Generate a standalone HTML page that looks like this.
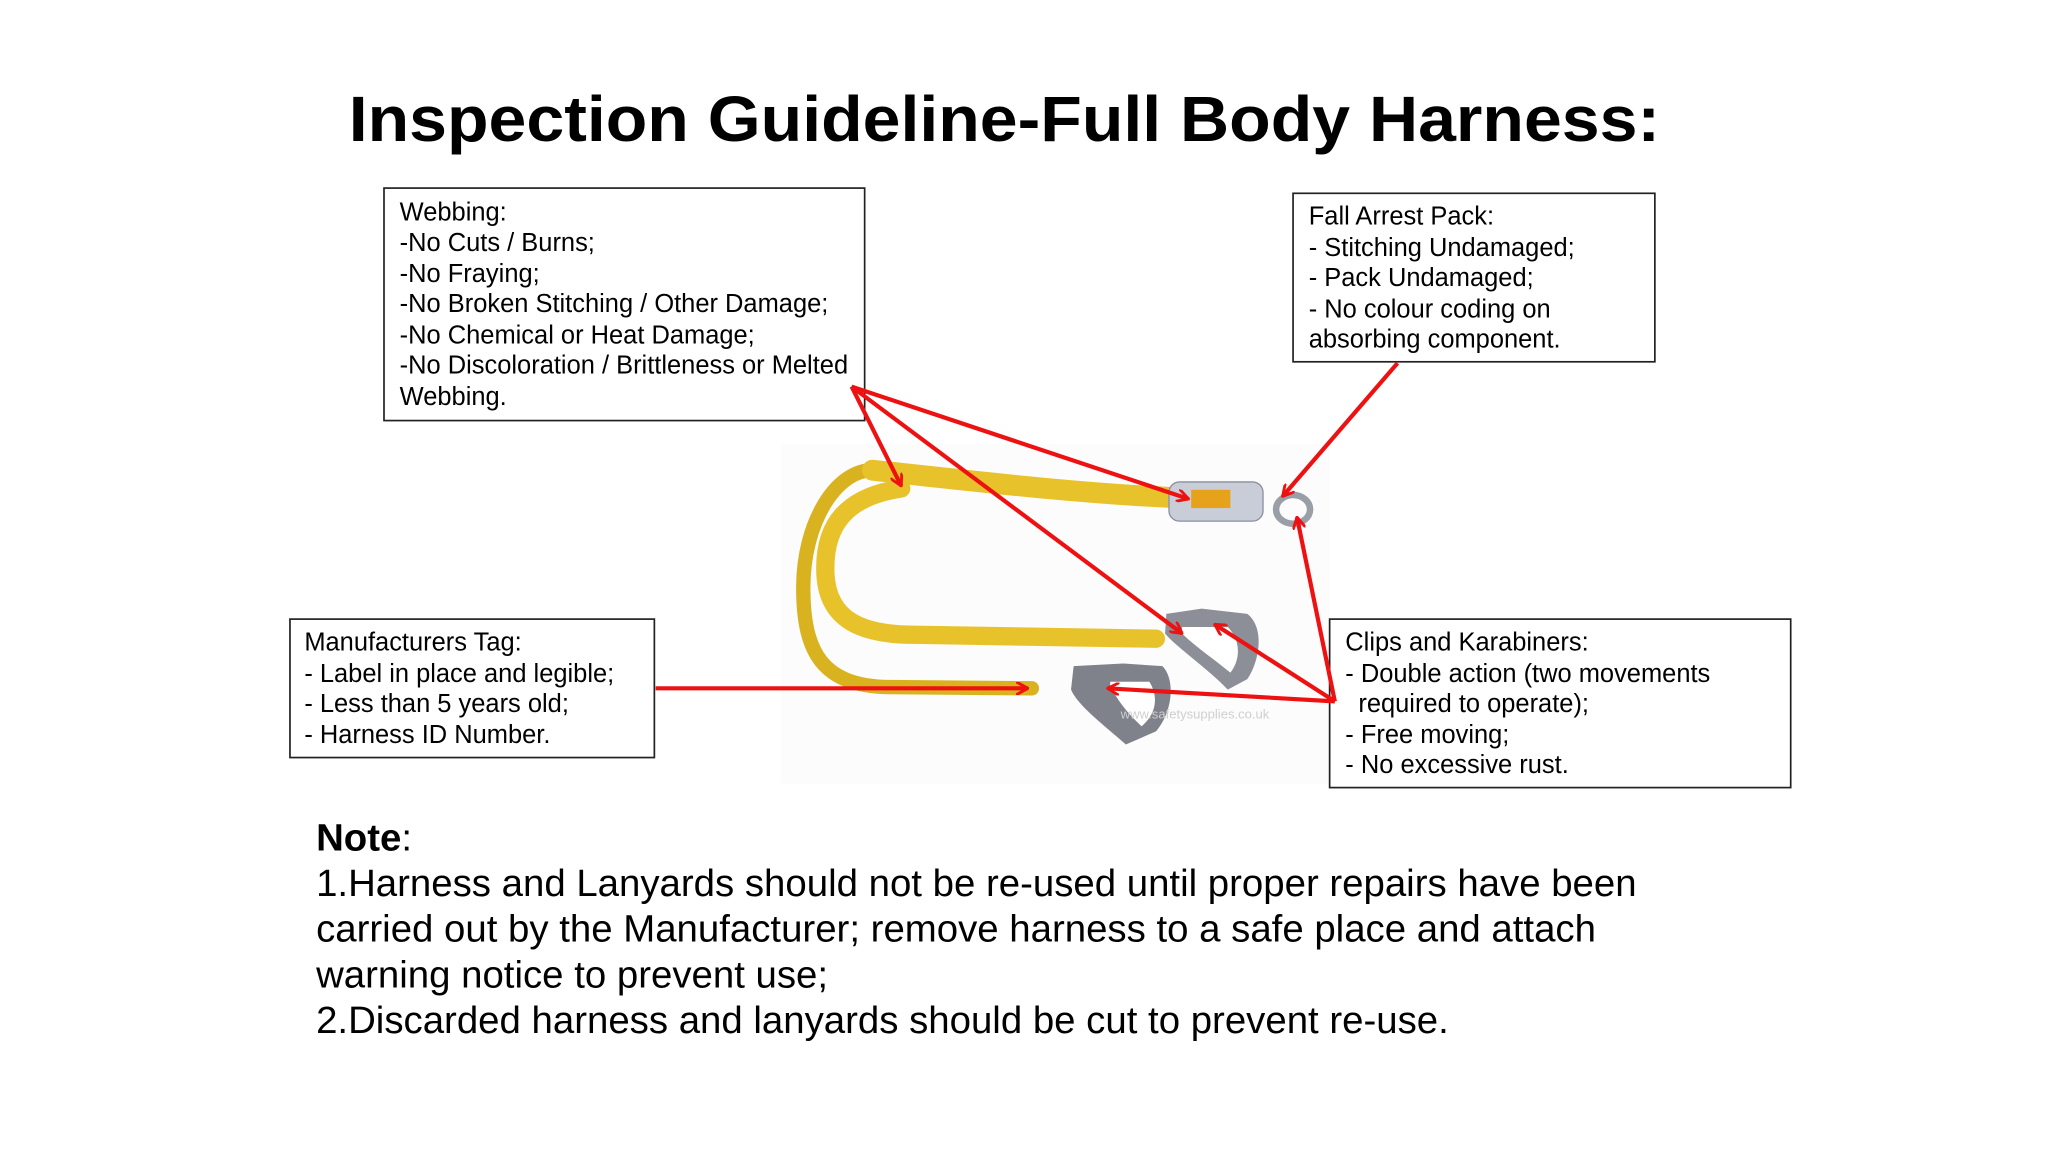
<!DOCTYPE html>
<html><head><meta charset="utf-8"><style>
html,body{margin:0;padding:0;background:#fff;}
svg{display:block;}
text{font-family:"Liberation Sans",Arial,sans-serif;fill:#000;}
</style></head><body>
<svg width="2048" height="1152" viewBox="0 0 1568 882" xmlns="http://www.w3.org/2000/svg">
<defs>
<marker id="ah" markerWidth="10" markerHeight="10" refX="9" refY="5" orient="auto" markerUnits="userSpaceOnUse" viewBox="0 0 10 10">
<path d="M0,0 L9,5 L0,10" fill="none" stroke="#ee1111" stroke-width="2.2"/>
</marker>
</defs>
<rect width="1568" height="882" fill="#fff"/>
<text x="267" y="108" font-size="49" font-weight="bold" textLength="1004" lengthAdjust="spacingAndGlyphs">Inspection Guideline-Full Body Harness:</text>

<!-- lanyard -->
<rect x="598" y="340" width="420" height="260" fill="#fcfcfc"/>
<g fill="none" stroke-linecap="round">
<path d="M668,360 C640,360 615,400 615,450 C615,500 630,525 680,526 L790,527" stroke="#d9b21f" stroke-width="11"/>
<path d="M668,360 C760,370 830,378 900,381" stroke="#e8c22a" stroke-width="16"/>
<path d="M690,374 C650,380 630,400 632,440 C634,475 660,486 700,486 L885,489" stroke="#e8c22a" stroke-width="14"/>
</g>
<rect x="895" y="369" width="72" height="30" rx="8" fill="#c9cdd8" stroke="#8a8fa0"/>
<rect x="912" y="375" width="30" height="14" fill="#e6a21a"/>
<ellipse cx="990" cy="390" rx="13" ry="11" fill="none" stroke="#9a9ea6" stroke-width="5"/>
<path d="M893,470 L920,466 L955,470 C968,480 965,505 955,520 L940,528 C925,512 900,495 892,485 Z" fill="#8c8f98"/>
<path d="M905,480 L940,480 C950,490 950,505 942,515 C930,505 915,495 905,485Z" fill="#fff"/>
<path d="M822,510 L860,508 L890,510 C900,520 898,545 885,560 L862,570 C845,555 825,540 820,528 Z" fill="#7f828b"/>
<path d="M850,522 L880,522 C888,535 884,548 874,556 C862,545 855,535 850,525Z" fill="#fff"/>
<text x="858" y="550" font-size="10" style="fill:#cfcfcf">www.safetysupplies.co.uk</text>

<!-- boxes -->
<g fill="#fff" stroke="#222" stroke-width="1.3">
<rect x="294" y="144" width="368" height="178"/>
<rect x="990" y="148" width="277" height="129"/>
<rect x="222" y="474" width="279" height="106"/>
<rect x="1018" y="474" width="353" height="129"/>
</g>
<g font-size="19.5">
<text x="306" y="169">Webbing:</text>
<text x="306" y="192">-No Cuts / Burns;</text>
<text x="306" y="216">-No Fraying;</text>
<text x="306" y="239">-No Broken Stitching / Other Damage;</text>
<text x="306" y="263">-No Chemical or Heat Damage;</text>
<text x="306" y="286">-No Discoloration / Brittleness or Melted</text>
<text x="306" y="310">Webbing.</text>
<text x="1002" y="172">Fall Arrest Pack:</text>
<text x="1002" y="196">- Stitching Undamaged;</text>
<text x="1002" y="219">- Pack Undamaged;</text>
<text x="1002" y="243">- No colour coding on</text>
<text x="1002" y="266">absorbing component.</text>
<text x="233" y="498">Manufacturers Tag:</text>
<text x="233" y="522">- Label in place and legible;</text>
<text x="233" y="545">- Less than 5 years old;</text>
<text x="233" y="569">- Harness ID Number.</text>
<text x="1030" y="498">Clips and Karabiners:</text>
<text x="1030" y="522">- Double action (two movements</text>
<text x="1040" y="545">required to operate);</text>
<text x="1030" y="569">- Free moving;</text>
<text x="1030" y="592">- No excessive rust.</text>
</g>

<!-- arrows -->
<g stroke="#ee1111" stroke-width="3.2" fill="none" marker-end="url(#ah)">
<line x1="652" y1="296" x2="690" y2="372"/>
<line x1="652" y1="296" x2="910" y2="382"/>
<line x1="652" y1="296" x2="905" y2="485"/>
<line x1="1070" y1="278" x2="982" y2="380"/>
<line x1="1022" y1="537" x2="993" y2="396"/>
<line x1="1022" y1="537" x2="930" y2="478"/>
<line x1="1022" y1="537" x2="848" y2="527"/>
<line x1="502" y1="527" x2="787" y2="527"/>
</g>

<g font-size="29.4">
<text x="242" y="651"><tspan font-weight="bold">Note</tspan>:</text>
<text x="242" y="686">1.Harness and Lanyards should not be re-used until proper repairs have been</text>
<text x="242" y="721">carried out by the Manufacturer; remove harness to a safe place and attach</text>
<text x="242" y="756">warning notice to prevent use;</text>
<text x="242" y="791">2.Discarded harness and lanyards should be cut to prevent re-use.</text>
</g>
</svg>
</body></html>
